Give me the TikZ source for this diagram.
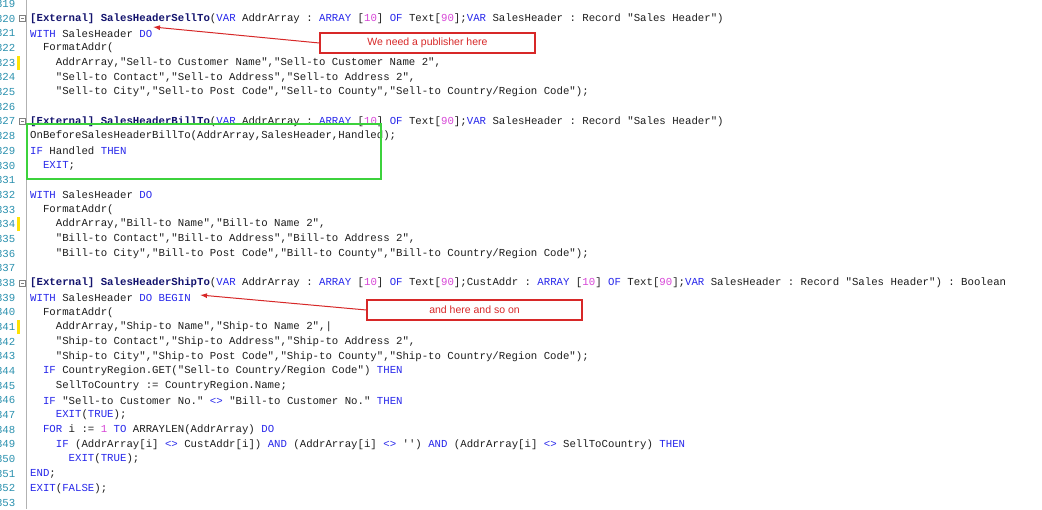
\documentclass[tikz,border=0pt]{standalone}
\usepackage{fontspec}
\setmonofont{Liberation Mono}
\setsansfont{Liberation Sans}
\definecolor{kwc}{RGB}{40,40,235}
\definecolor{numc}{RGB}{215,70,215}
\definecolor{fnc}{RGB}{20,20,110}
\definecolor{txc}{RGB}{30,30,30}
\definecolor{lnc}{RGB}{43,145,175}
\definecolor{boxred}{RGB}{215,40,40}
\definecolor{boxgreen}{RGB}{60,210,60}
\newcommand\kw[1]{\textcolor{kwc}{#1}}
\newcommand\nm[1]{\textcolor{numc}{#1}}
\newcommand\fn[1]{\textcolor{fnc}{\bfseries #1}}
\newcommand\cl[3]{\node[codeline] (l#1) at ({30+#2*6.42},{4+(#1-319)*14.68}) {#3};}
\tikzset{
  codeline/.style={anchor=west,inner sep=0pt,font=\ttfamily\fontsize{10.7}{12}\selectfont,text=txc},
  lnum/.style={anchor=east,inner sep=0pt,font=\ttfamily\fontsize{10.7}{12}\selectfont,text=lnc},
  note/.style={draw=boxred,line width=1.2pt,fill=white,minimum width=215pt,minimum height=20pt,inner sep=0pt,text=boxred,font=\sffamily\fontsize{10.5}{12}\selectfont},
  pointer/.style={draw=boxred,line width=1pt,-{Latex[length=7pt,width=5pt]}},
  fold/.style={draw=gray,line width=0.5pt,minimum size=6pt,inner sep=0pt},
  change/.style={fill=yellow!85!orange,minimum width=3pt,minimum height=14pt,inner sep=0pt}
}
\usetikzlibrary{arrows.meta}
\begin{document}
\begin{tikzpicture}[x=1pt,y=-1pt]
\useasboundingbox (0,0) rectangle (1042,509);
\fill[white] (0,0) rectangle (1042,509);
\begin{scope}
\clip (0,0) rectangle (1042,509);
\foreach \n in {319,...,353}{
  \node[lnum] (n\n) at (15.5,{4+(\n-319)*14.68}) {\n};
}
\end{scope}
\draw[gray!60,line width=0.5pt] (26.5,0) -- (26.5,509);
\foreach \n in {320,327,338}{
  \node[fold,fill=white] (f\n) at (22.5,{4+(\n-319)*14.68}) {};
  \draw[gray,line width=0.5pt] ([xshift=1.5pt]f\n.west) -- ([xshift=-1.5pt]f\n.east);
}
\foreach \n in {323,334,341}{
  \node[change] (c\n) at (18.5,{4+(\n-319)*14.68}) {};
}
\cl{320}{0}{\fn{[External] SalesHeaderSellTo}(\kw{VAR} AddrArray : \kw{ARRAY} [\nm{10}] \kw{OF} Text[\nm{90}];\kw{VAR} SalesHeader : Record "Sales Header")}
\cl{321}{0}{\kw{WITH} SalesHeader \kw{DO}}
\cl{322}{2}{FormatAddr(}
\cl{323}{4}{AddrArray,"Sell-to Customer Name","Sell-to Customer Name 2",}
\cl{324}{4}{"Sell-to Contact","Sell-to Address","Sell-to Address 2",}
\cl{325}{4}{"Sell-to City","Sell-to Post Code","Sell-to County","Sell-to Country/Region Code");}
\cl{327}{0}{\fn{[External] SalesHeaderBillTo}(\kw{VAR} AddrArray : \kw{ARRAY} [\nm{10}] \kw{OF} Text[\nm{90}];\kw{VAR} SalesHeader : Record "Sales Header")}
\cl{328}{0}{OnBeforeSalesHeaderBillTo(AddrArray,SalesHeader,Handled);}
\cl{329}{0}{\kw{IF} Handled \kw{THEN}}
\cl{330}{2}{\kw{EXIT};}
\cl{332}{0}{\kw{WITH} SalesHeader \kw{DO}}
\cl{333}{2}{FormatAddr(}
\cl{334}{4}{AddrArray,"Bill-to Name","Bill-to Name 2",}
\cl{335}{4}{"Bill-to Contact","Bill-to Address","Bill-to Address 2",}
\cl{336}{4}{"Bill-to City","Bill-to Post Code","Bill-to County","Bill-to Country/Region Code");}
\cl{338}{0}{\fn{[External] SalesHeaderShipTo}(\kw{VAR} AddrArray : \kw{ARRAY} [\nm{10}] \kw{OF} Text[\nm{90}];CustAddr : \kw{ARRAY} [\nm{10}] \kw{OF} Text[\nm{90}];\kw{VAR} SalesHeader : Record "Sales Header") : Boolean}
\cl{339}{0}{\kw{WITH} SalesHeader \kw{DO} \kw{BEGIN}}
\cl{340}{2}{FormatAddr(}
\cl{341}{4}{AddrArray,"Ship-to Name","Ship-to Name 2",|}
\cl{342}{4}{"Ship-to Contact","Ship-to Address","Ship-to Address 2",}
\cl{343}{4}{"Ship-to City","Ship-to Post Code","Ship-to County","Ship-to Country/Region Code");}
\cl{344}{2}{\kw{IF} CountryRegion.GET("Sell-to Country/Region Code") \kw{THEN}}
\cl{345}{4}{SellToCountry := CountryRegion.Name;}
\cl{346}{2}{\kw{IF} "Sell-to Customer No." \kw{<>} "Bill-to Customer No." \kw{THEN}}
\cl{347}{4}{\kw{EXIT}(\kw{TRUE});}
\cl{348}{2}{\kw{FOR} i := \nm{1} \kw{TO} ARRAYLEN(AddrArray) \kw{DO}}
\cl{349}{4}{\kw{IF} (AddrArray[i] \kw{<>} CustAddr[i]) \kw{AND} (AddrArray[i] \kw{<>} '') \kw{AND} (AddrArray[i] \kw{<>} SellToCountry) \kw{THEN}}
\cl{350}{6}{\kw{EXIT}(\kw{TRUE});}
\cl{351}{0}{\kw{END};}
\cl{352}{0}{\kw{EXIT}(\kw{FALSE});}
% annotations
\node[draw=boxgreen,line width=1.2pt,minimum width=354pt,minimum height=55pt,inner sep=0pt] (green) at (204,151.5) {};
\node[note] (pub) at (427.5,43) {We need a publisher here};
\coordinate (t1) at (153,27);
\draw[pointer] (pub.west) -- (t1);
\node[note] (onw) at (474.5,310) {and here and so on};
\coordinate (t2) at (200,295);
\draw[pointer] (onw.west) -- (t2);
\end{tikzpicture}
\end{document}
